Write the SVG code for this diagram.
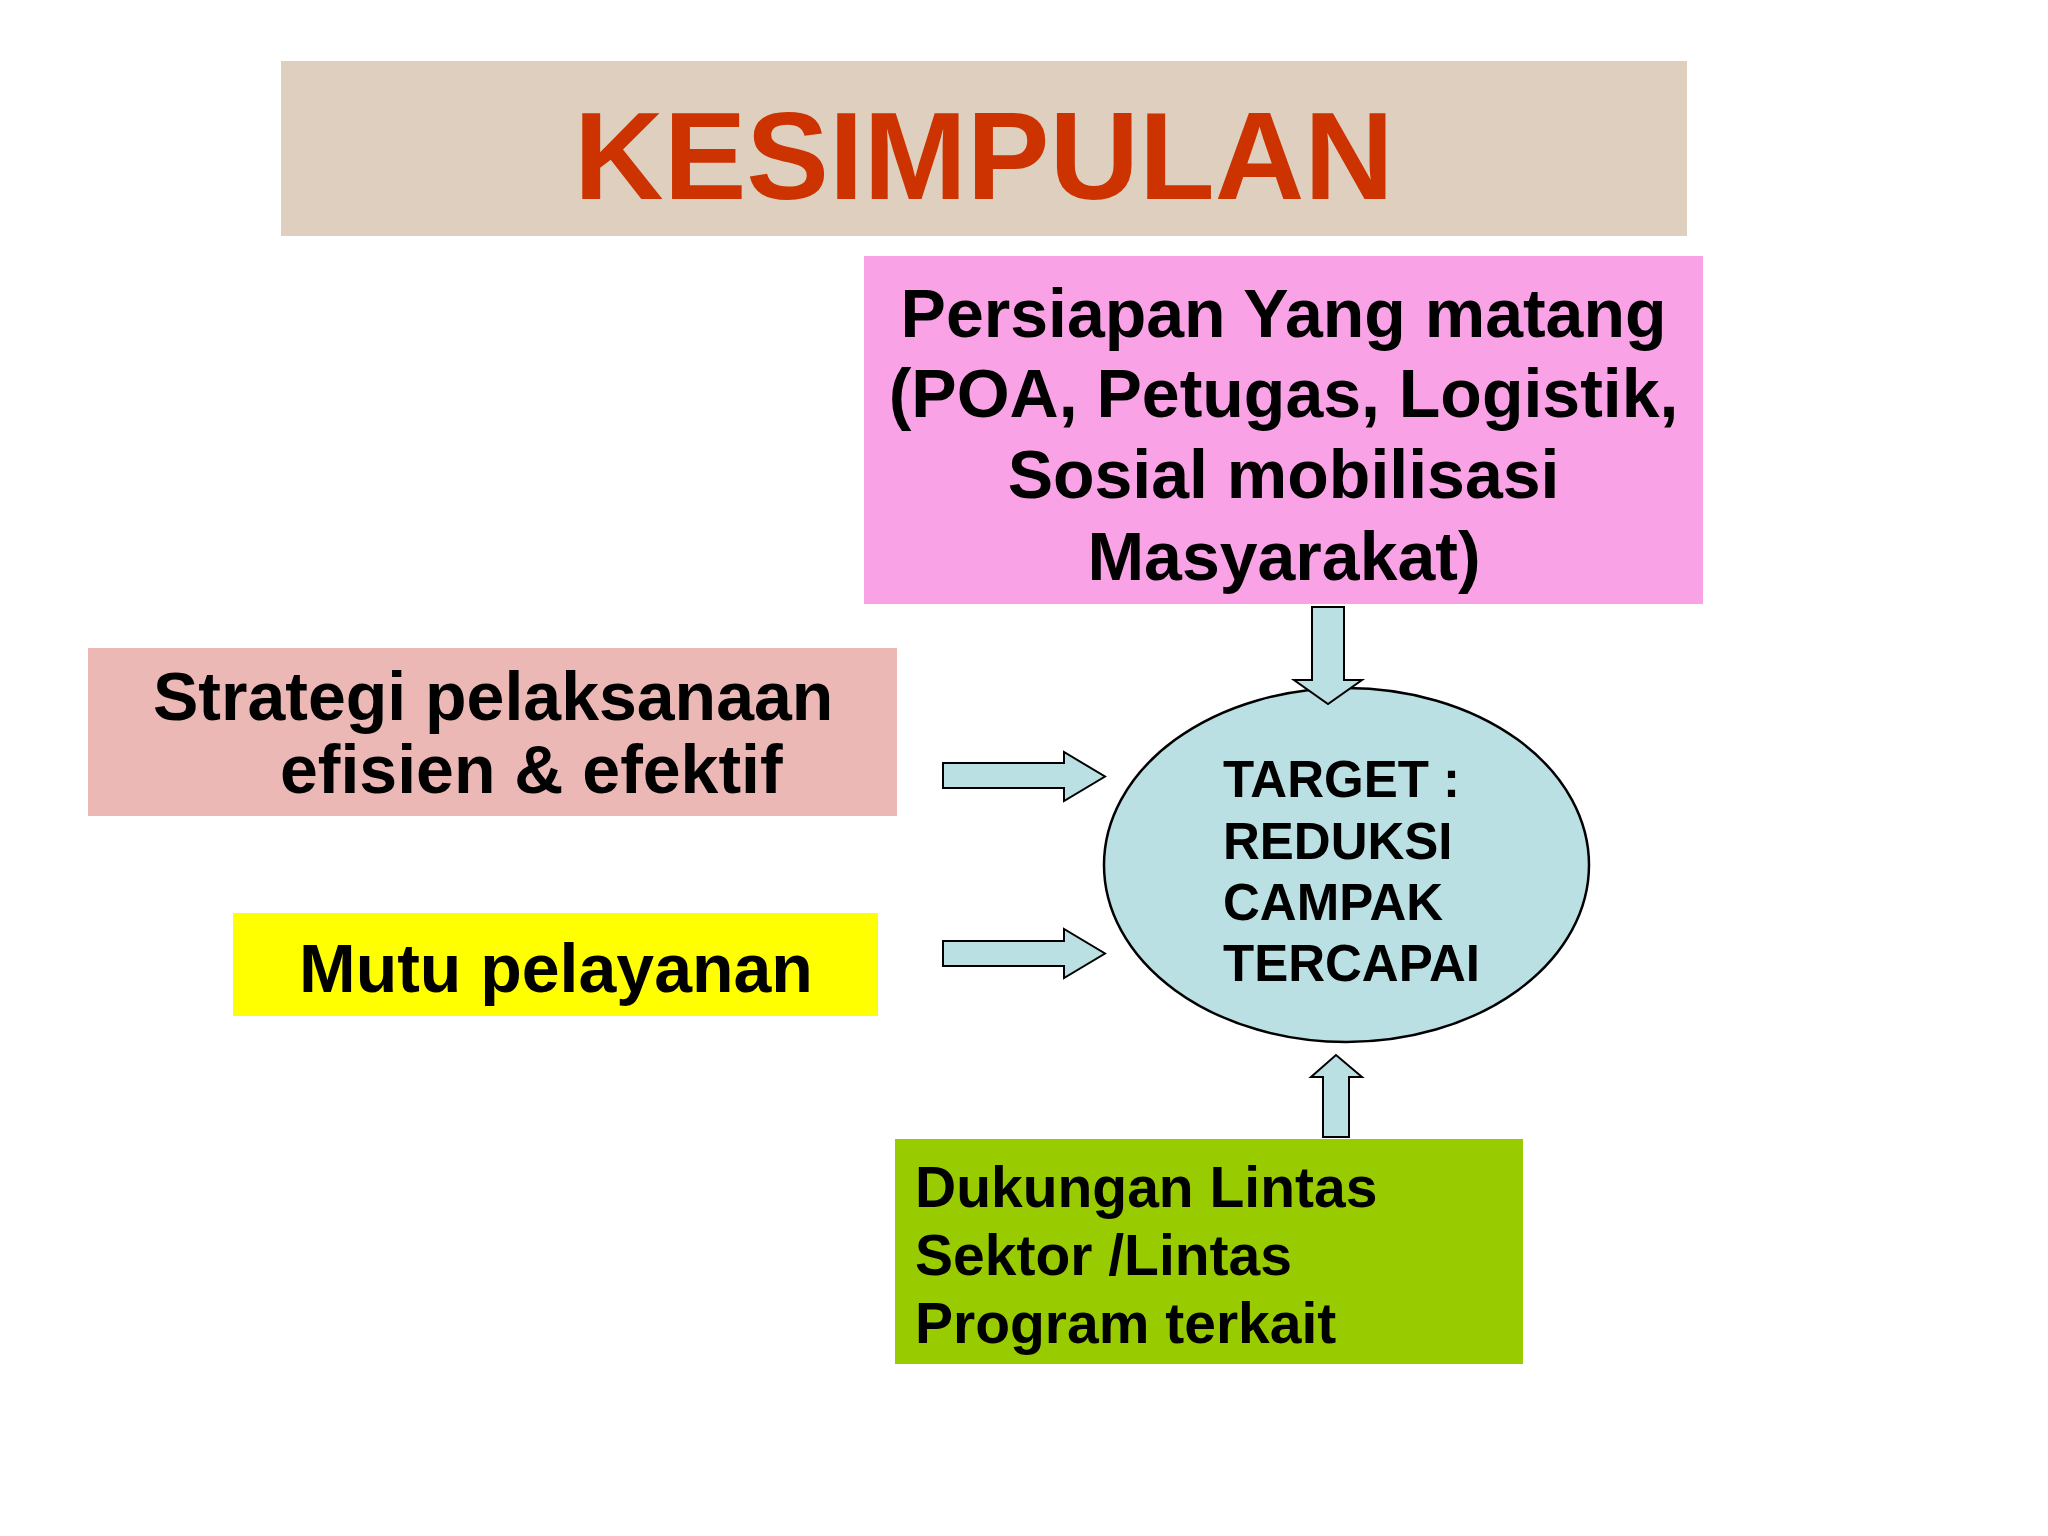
<svg xmlns="http://www.w3.org/2000/svg" width="2048" height="1536" viewBox="0 0 2048 1536">
<style>
.t{font-family:"Liberation Sans",Arial,sans-serif;font-weight:bold;fill:#000}
.arr{fill:#BBE0E3;stroke:#000;stroke-width:2;stroke-linejoin:miter}
</style>
<rect width="2048" height="1536" fill="#fff"/>
<g id="title">
<rect x="281" y="61" width="1406" height="175" fill="#DFCFBE"/>
<text class="t" x="984" y="199" font-size="124" text-anchor="middle" style="fill:#CC3300">KESIMPULAN</text>
</g>
<g id="persiapan">
<rect x="864" y="256" width="839" height="348" fill="#F9A3E6"/>
<text class="t" font-size="68" text-anchor="middle">
<tspan x="1293" y="337">Persiapan Yang matang</tspan>
<tspan x="1293" y="417">(POA, Petugas, Logistik,</tspan>
<tspan x="1293" y="498">Sosial mobilisasi</tspan>
<tspan x="1284" y="580">Masyarakat)</tspan>
</text>
</g>
<g id="strategi">
<rect x="88" y="648" width="809" height="168" fill="#EBB8B6"/>
<text class="t" font-size="68">
<tspan x="153" y="720">Strategi pelaksanaan</tspan>
<tspan x="280" y="793">efisien &amp; efektif</tspan>
</text>
</g>
<g id="mutu">
<rect x="233" y="913" width="645" height="103" fill="#FFFF00"/>
<text class="t" x="299" y="992" font-size="68">Mutu pelayanan</text>
</g>
<g id="target">
<ellipse cx="1346.5" cy="865" rx="242.5" ry="177" fill="#BBE0E3" stroke="#000" stroke-width="2.5"/>
<text class="t" font-size="51">
<tspan x="1223" y="797">TARGET :</tspan>
<tspan x="1223" y="859">REDUKSI</tspan>
<tspan x="1223" y="920">CAMPAK</tspan>
<tspan x="1223" y="981">TERCAPAI</tspan>
</text>
</g>
<g id="dukungan">
<rect x="895" y="1139" width="628" height="225" fill="#99CC00"/>
<text class="t" font-size="57">
<tspan x="915" y="1207">Dukungan Lintas</tspan>
<tspan x="915" y="1275">Sektor /Lintas</tspan>
<tspan x="915" y="1343">Program terkait</tspan>
</text>
</g>
<g id="connectors">
<polygon class="arr" points="943,763 1064,763 1064,752 1105,776.5 1064,801 1064,788 943,788"/>
<polygon class="arr" points="943,941 1064,941 1064,929 1105,953.5 1064,978 1064,966 943,966"/>
<polygon class="arr" points="1312,607 1344,607 1344,680 1362,680 1328,704 1294,680 1312,680"/>
<polygon class="arr" points="1323,1137 1349,1137 1349,1077 1362,1077 1336,1055 1311,1077 1323,1077"/>
</g>
</svg>
